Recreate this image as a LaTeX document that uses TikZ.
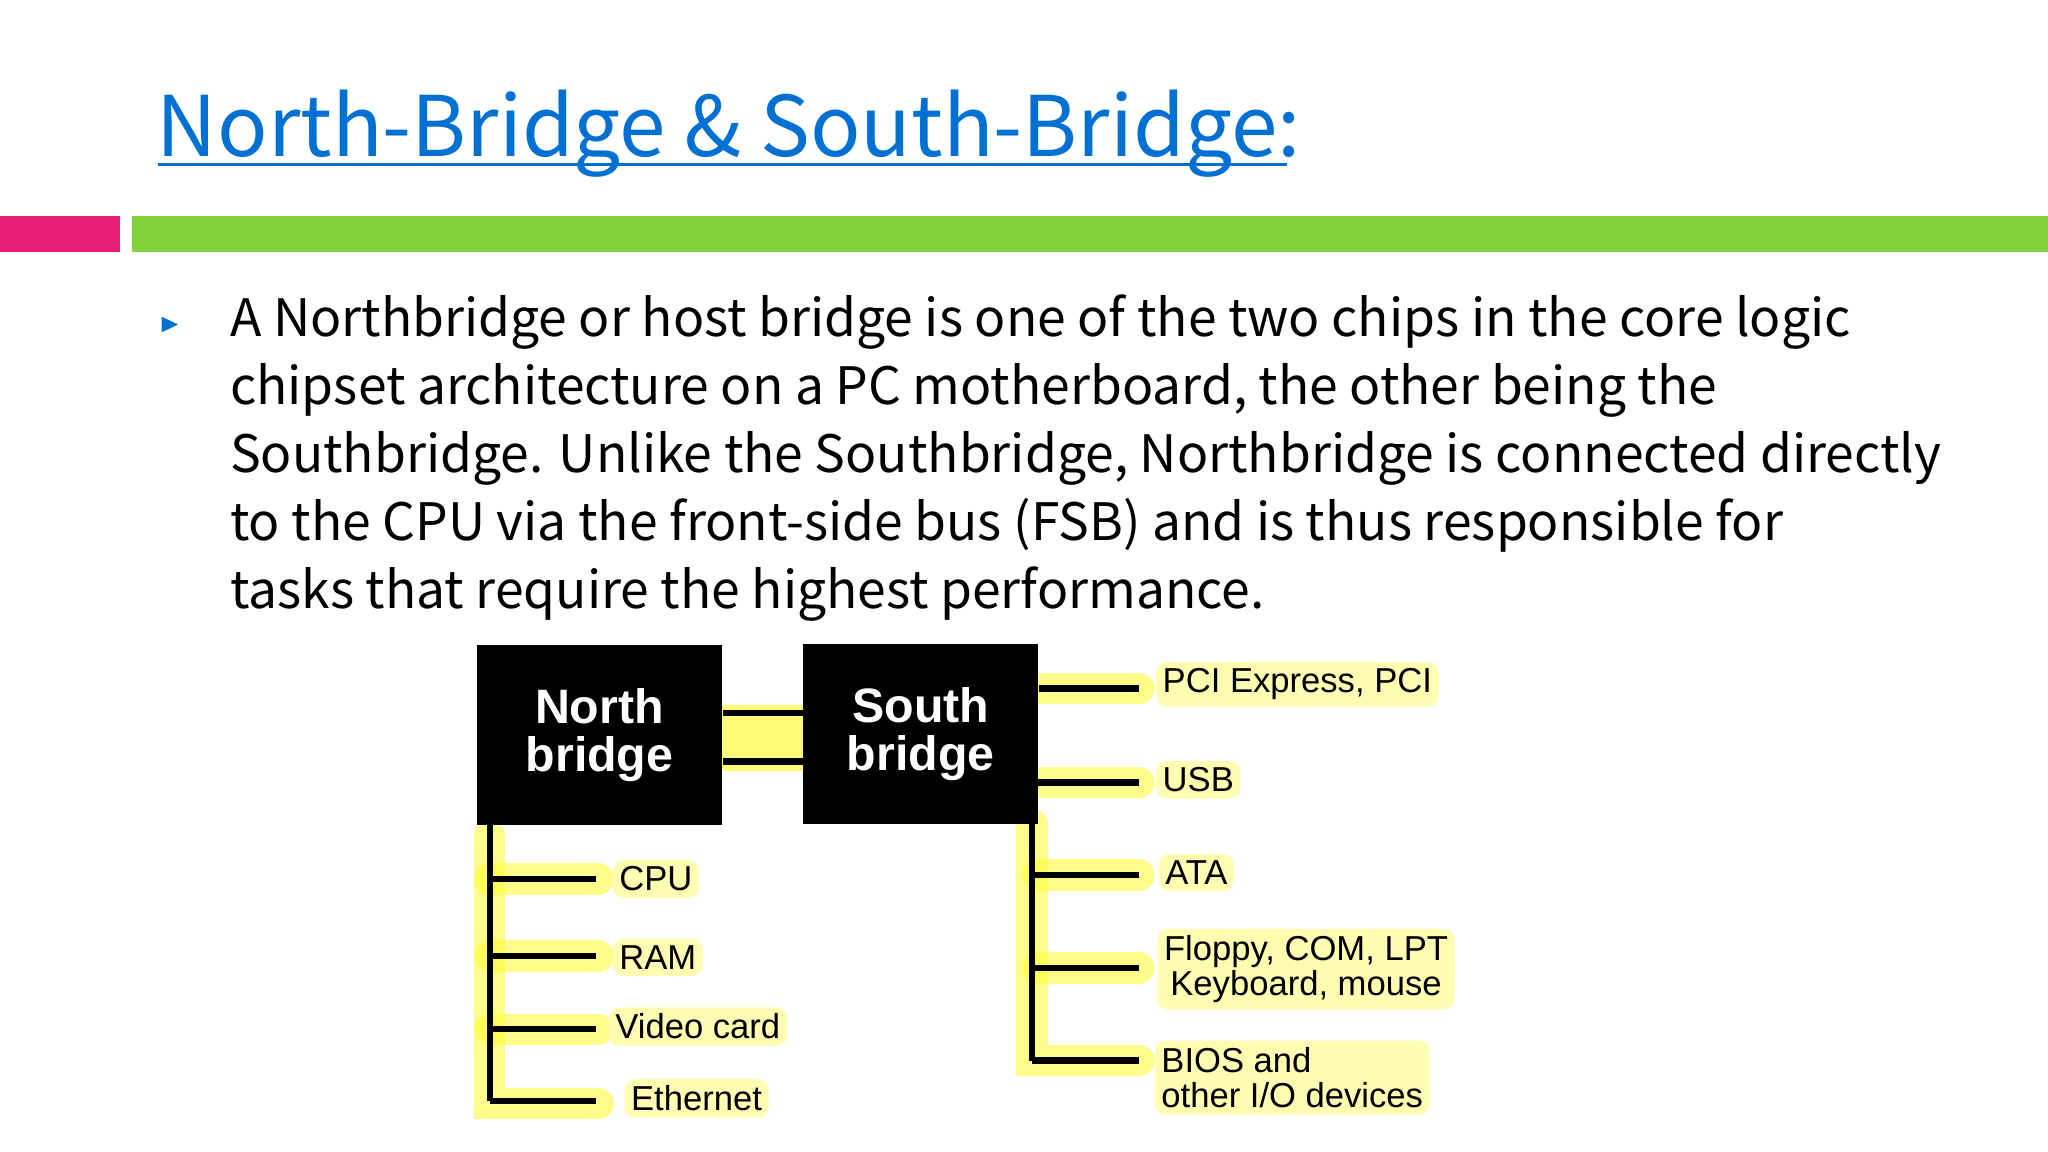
\documentclass[tikz,border=0pt]{standalone}
\usepackage{amssymb}
\usepackage{fontspec}
\setmainfont{Liberation Sans}
\newfontfamily\gothic{Noto Sans CJK JP}
\usetikzlibrary{positioning}
\definecolor{titleblue}{RGB}{0,112,210}
\definecolor{barpink}{RGB}{230,30,120}
\definecolor{bargreen}{RGB}{130,210,60}
\definecolor{glowyellow}{RGB}{255,250,60}
\tikzset{
    x=1pt, y=-1pt,
    chip/.style={fill=black, text=white, font=\fontsize{37}{37}\selectfont\bfseries, align=center, inner sep=0pt},
    glow/.style={draw=glowyellow, line width=24pt, opacity=0.6, line cap=round},
    bus/.style={draw=black, line width=5pt},
    item/.style={anchor=west, xshift=-5pt, font=\fontsize{26.5}{27}\selectfont, align=left, inner sep=5pt, fill=glowyellow!40, rounded corners=8pt},
    line/.style={anchor=base west, font=\gothic\fontsize{39.5}{39.5}\selectfont, inner sep=0pt}
}
\begin{document}
\begin{tikzpicture}
\useasboundingbox (0,0) rectangle (1568,882);
% header
\node[anchor=base west, inner sep=0pt, text=titleblue, font=\gothic\fontsize{64}{64}\selectfont] (title) at (120,120)
    {North-Bridge \& South-Bridge:};
\draw[titleblue, line width=2.5pt] (121,126) -- (985,126);
\fill[barpink] (0,165) rectangle (92,193);
\fill[bargreen] (101,165) rectangle (1568,193);
% bullet text
\node[text=titleblue, font=\fontsize{20}{20}\selectfont, inner sep=0pt] (bullet) at (130,249) {$\blacktriangleright$};
\node[line] (l1) at (176,258) {A Northbridge or host bridge is one of the two chips in the core logic};
\node[line] (l2) at (176,310) {chipset architecture on a PC motherboard, the other being the};
\node[line] (l3) at (176,362) {Southbridge. Unlike the Southbridge, Northbridge is connected directly};
\node[line] (l4) at (176,414) {to the CPU via the front-side bus (FSB) and is thus responsible for};
\node[line] (l5) at (176,466) {tasks that require the highest performance.};
% glow under the buses
\fill[glowyellow, opacity=0.7] (553,540) rectangle (615,590);
\draw[glow] (375,640) -- (375,845) -- (458,845);
\foreach \y in {673,732,788} \draw[glow] (375,\y) -- (458,\y);
\draw[glow] (790,631) -- (790,812) -- (872,812);
\foreach \y in {527,599,670,741} \draw[glow] (795,\y) -- (872,\y);
% chips
\node[chip, minimum width=188pt, minimum height=138pt] (nb) at (459,563) {North\\bridge};
\node[chip, minimum width=180pt, minimum height=138pt] (sb) at (705,562) {South\\bridge};
\draw[bus] (nb.east |- 0,546) -- (sb.west |- 0,546);
\draw[bus] (nb.east |- 0,583) -- (sb.west |- 0,583);
% north side
\coordinate (nt) at (375,632);
\coordinate (nt1) at (375,673);
\coordinate (nt2) at (375,732);
\coordinate (nt3) at (375,788);
\coordinate (nt4) at (375,843);
\draw[bus] (nt) -- (nt4);
\node[item] (cpu) at (474,673) {CPU};
\node[item] (ram) at (474,733) {RAM};
\node[item] (video) at (471,786) {Video card};
\node[item] (eth) at (483,841) {Ethernet};
\draw[bus] (nt1) -- (456,673);
\draw[bus] (nt2) -- (456,732);
\draw[bus] (nt3) -- (456,788);
\draw[bus] (nt4) -- (456,843);
% south side
\coordinate (st) at (790,631);
\coordinate (st5) at (790,812);
\draw[bus] (st) -- (st5);
\node[item] (pci) at (890,524) {PCI Express, PCI};
\node[item] (usb) at (890,597) {USB};
\node[item] (ata) at (892,668) {ATA};
\node[item, align=center] (floppy) at (891,742) {Floppy, COM, LPT\\Keyboard, mouse};
\node[item] (bios) at (889,825) {BIOS and\\other I/O devices};
\draw[bus] (sb.east |- 0,527) -- (872,527);
\draw[bus] (790,599) -- (872,599);
\draw[bus] (790,670) -- (872,670);
\draw[bus] (790,741) -- (872,741);
\draw[bus] (st5) -- (872,812);
\end{tikzpicture}
\end{document}
